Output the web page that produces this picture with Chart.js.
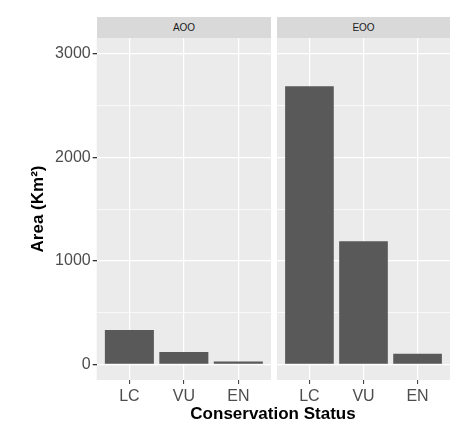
<!DOCTYPE html>
<html lang="en">
<head>
  <meta charset="UTF-8">
  <title>Area by conservation status</title>
  <script src="https://cdn.jsdelivr.net/npm/chart.js"></script>
  <style>
    * { box-sizing: border-box; }
    body, html { margin:0; padding:0; background:#fff; font-family:'Liberation Sans', Arial, sans-serif; }
    #wrap { position:relative; width:474px; height:439px; overflow:hidden; background:#fff; }
    canvas { position:absolute; top:0; }
    #chartAoo { left:0; }
    #chartEoo { left:277px; }
    .strip { position:absolute; top:17px; height:21px; background:#d9d9d9; color:#1a1a1a;
             font-size:10px; line-height:21px; text-align:center; }
    #xTitle { position:absolute; left:273px; top:404px; transform:translateX(-50%); white-space:nowrap;
              font-weight:bold; font-size:17px; color:#000; }
  </style>
</head>
<body>
  <div id="wrap">
    <canvas id="chartAoo" width="271" height="439"></canvas>
    <canvas id="chartEoo" width="173" height="439"></canvas>
    <div class="strip" style="left:97px;width:174px;">AOO</div>
    <div class="strip" style="left:277px;width:173px;">EOO</div>
    <div id="xTitle">Conservation Status</div>
  </div>

  <script>
    // data
    const categories = ['LC', 'VU', 'EN'];
    const aooValues = [333, 119, 29];
    const eooValues = [2685, 1190, 103];
    const yMajorTicks = [0, 1000, 2000, 3000];
    const yMinorTicks = [500, 1500, 2500];

    const FONT = "'Liberation Sans', Arial, sans-serif";
    const TEXT_GREY = '#4d4d4d';
    const BAR_GREY = '#595959';

    // grey panel background behind the plot area
    const panelBg = {
      id: 'panelBg',
      beforeDraw(chart) {
        const { ctx, chartArea: a } = chart;
        ctx.save();
        ctx.fillStyle = '#ebebeb';
        ctx.fillRect(a.left, a.top, a.right - a.left, a.bottom - a.top);
        ctx.restore();
      }
    };

    const isMajor = v => yMajorTicks.includes(v);

    function makeChart(id, values, withYAxis) {
      const ctx = document.getElementById(id).getContext('2d');
      return new Chart(ctx, {
        type: 'bar',
        data: {
          datasets: [{
            data: categories.map((c, i) => ({ x: i, y: values[i] })),
            backgroundColor: BAR_GREY,
            borderWidth: 0,
            barPercentage: 0.9,
            categoryPercentage: 1
          }]
        },
        options: {
          responsive: false,
          animation: false,
          layout: { padding: { top: 38, left: withYAxis ? 28 : 0, right: 0, bottom: 0 } },
          plugins: { legend: { display: false }, tooltip: { enabled: false } },
          scales: {
            x: {
              type: 'linear',
              min: -0.6,
              max: 2.6,
              offset: false,
              afterBuildTicks: s => { s.ticks = categories.map((c, i) => ({ value: i })); },
              afterFit: s => { s.height = 59; },
              border: { display: false },
              grid: { offset: false, color: '#ffffff', lineWidth: 1.2, tickColor: '#333333', tickLength: 4, tickWidth: 1 },
              ticks: {
                padding: 3,
                color: TEXT_GREY,
                font: { family: FONT, size: 16 },
                callback: v => categories[v]
              }
            },
            y: {
              min: -150,
              max: 3150,
              afterBuildTicks: s => {
                s.ticks = yMajorTicks.concat(yMinorTicks).sort((a, b) => a - b).map(v => ({ value: v }));
              },
              afterFit: s => { s.width = withYAxis ? 68.7 : 0; },
              border: { display: false },
              grid: {
                color: '#ffffff',
                lineWidth: c => isMajor(c.tick.value) ? 1.3 : 0.7,
                drawTicks: withYAxis,
                tickLength: 4,
                tickColor: c => isMajor(c.tick.value) ? '#333333' : 'rgba(0,0,0,0)'
              },
              ticks: {
                display: withYAxis,
                padding: 2,
                color: TEXT_GREY,
                font: { family: FONT, size: 16 },
                callback: v => isMajor(v) ? String(v) : ''
              },
              title: {
                display: withYAxis,
                text: 'Area (Km²)',
                color: '#000000',
                padding: 0,
                font: { family: FONT, size: 17, weight: 'bold' }
              }
            }
          }
        },
        plugins: [panelBg]
      });
    }

    makeChart('chartAoo', aooValues, true);
    makeChart('chartEoo', eooValues, false);
  </script>
</body>
</html>
